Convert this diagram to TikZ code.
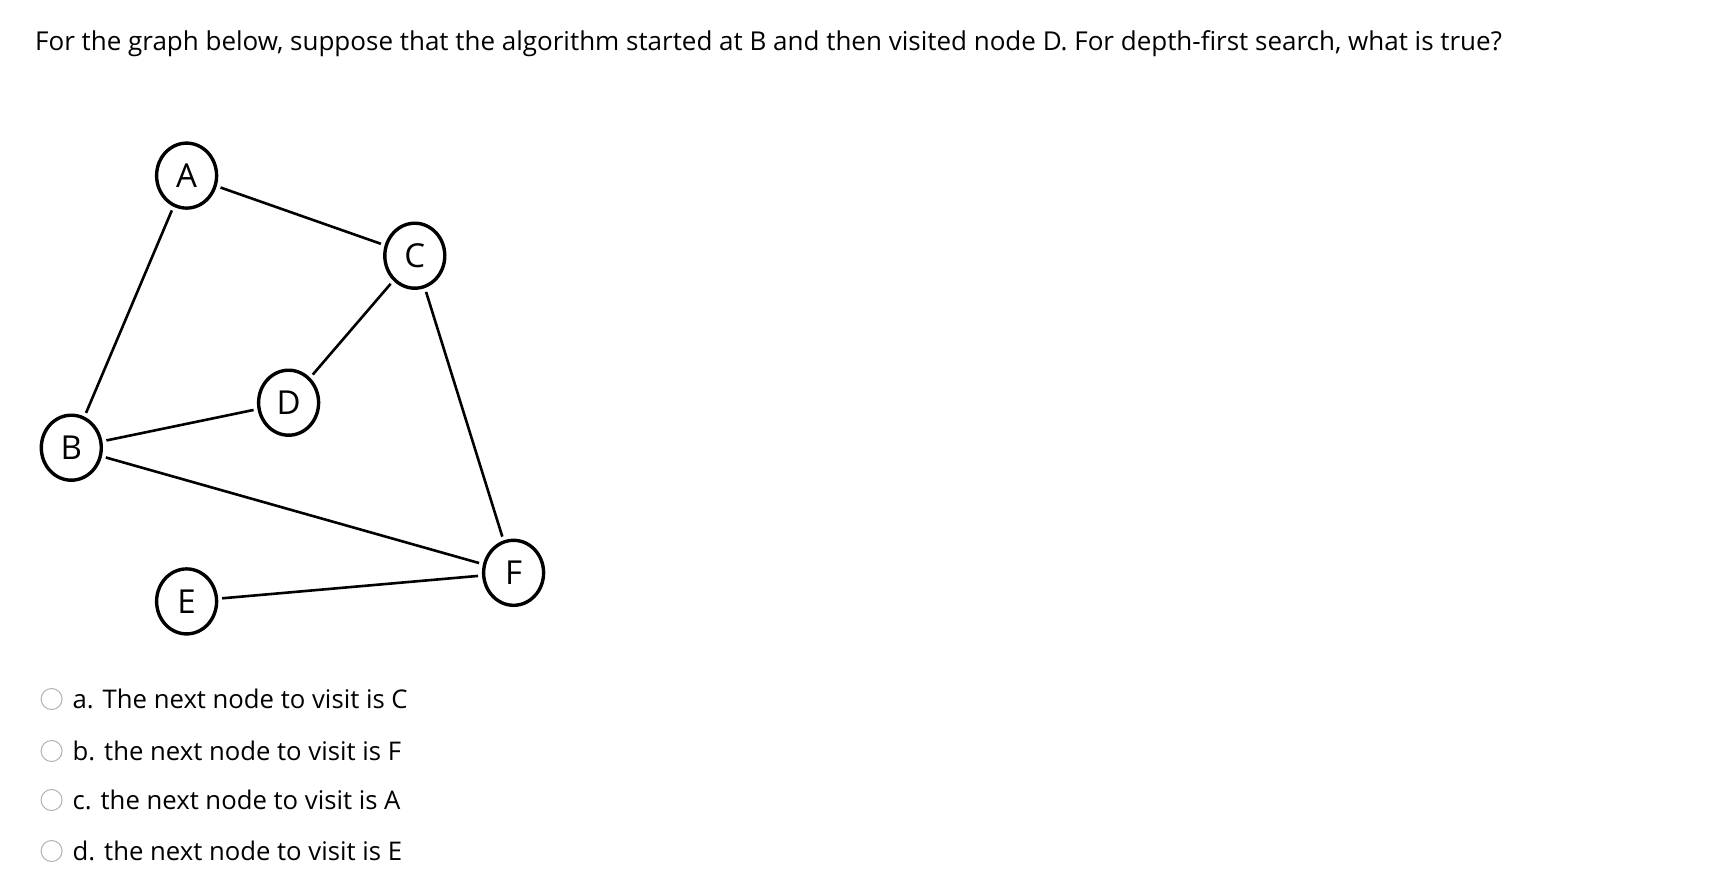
\documentclass[tikz,border=0pt]{standalone}
\usepackage{fontspec}
\setmainfont{Open Sans}
\usetikzlibrary{shapes.geometric}
\begin{document}
\begin{tikzpicture}[x=1pt,y=-1pt,
  vert/.style={draw,line width=3.4pt,ellipse,minimum width=60pt,minimum height=65pt,inner sep=0pt,font=\fontsize{33}{34}\selectfont},
  edge/.style={line width=2.6pt,shorten <=4pt,shorten >=4pt},
  radio/.style={draw=gray!60,line width=1pt,circle,minimum size=21pt,inner sep=0pt},
  opt/.style={anchor=west,font=\fontsize{25.7}{28}\selectfont,inner sep=0pt}]
\useasboundingbox (0,0) rectangle (1712,868);
\node[anchor=west,inner sep=0pt,font=\fontsize{26}{28}\selectfont] (title) at (35,44) {For the graph below, suppose that the algorithm started at B and then visited node D. For depth-first search, what is true?};
\node[vert] (A) at (186.6,175.6) {A};
\node[vert] (C) at (414.8,255.7) {C};
\node[vert] (D) at (288.6,402.7) {D};
\node[vert] (B) at (71.3,447.7) {B};
\node[vert] (F) at (513.6,572.8) {F};
\node[vert] (E) at (186.6,601.4) {E};
\draw[edge] (A) -- (B);
\draw[edge] (A) -- (C);
\draw[edge] (C) -- (D);
\draw[edge] (D) -- (B);
\draw[edge] (B) -- (F);
\draw[edge] (C) -- (F);
\draw[edge] (E) -- (F);
\node[radio] (r1) at (51.6,699) {};
\node[radio] (r2) at (51.6,751) {};
\node[radio] (r3) at (51.6,800) {};
\node[radio] (r4) at (51.6,851) {};
\node[opt] (o1) at (72.5,699) {a. The next node to visit is C};
\node[opt] (o2) at (72.5,751) {b. the next node to visit is F};
\node[opt] (o3) at (72.5,800) {c. the next node to visit is A};
\node[opt] (o4) at (72.5,851) {d. the next node to visit is E};
\end{tikzpicture}
\end{document}
